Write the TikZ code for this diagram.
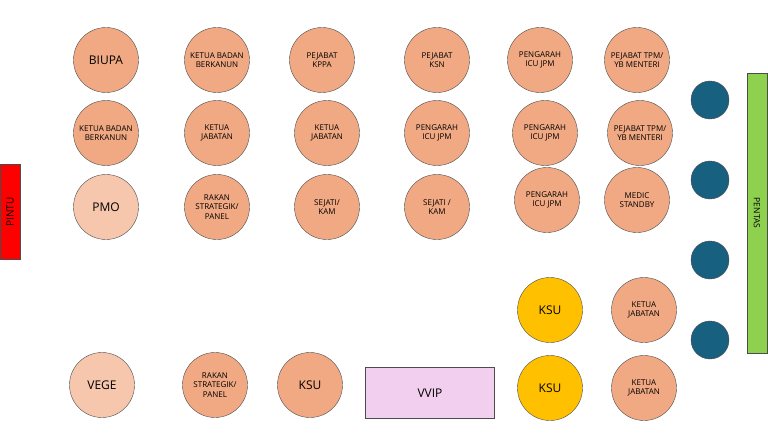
\documentclass[tikz,border=0pt]{standalone}
\usepackage{fontspec}
\setmainfont{Open Sans}
\usepackage{tikz}
\definecolor{salmon}{HTML}{F1A983}
\definecolor{peach}{HTML}{F6C6AD}
\definecolor{ksuyellow}{HTML}{FFC000}
\definecolor{seatblue}{HTML}{18607F}
\definecolor{stagegreen}{HTML}{8ED14F}
\definecolor{vvippink}{HTML}{F2CFEE}
\tikzset{
  meja/.style={shape=circle, draw=black!70, fill=salmon, minimum size=65pt, inner sep=0pt, align=center, font=\fontsize{8}{9.5}\selectfont},
  mejabesar/.style={meja, font=\fontsize{12}{14}\selectfont},
  kerusi/.style={shape=circle, draw=black!70, fill=seatblue, minimum size=38pt, inner sep=0pt}
}
\begin{document}
\begin{tikzpicture}[x=1pt, y=-1pt]
\useasboundingbox (0,0) rectangle (768,433);
% baris 1
\node[mejabesar] (biupa) at (106,60) {BIUPA};
\node[meja] (kbb1) at (217,60) {KETUA BADAN\\BERKANUN};
\node[meja] (kppa) at (322,60) {PEJABAT\\KPPA};
\node[meja] (ksn) at (437,60) {PEJABAT\\KSN};
\node[meja] (icu1) at (540,60) {PENGARAH\\ICU JPM};
\node[meja] (tpm1) at (637,60) {PEJABAT TPM/\\YB MENTERI};
% baris 2
\node[meja] (kbb2) at (106,133) {KETUA BADAN\\BERKANUN};
\node[meja] (kj1) at (217,133) {KETUA\\JABATAN};
\node[meja] (kj2) at (327,133) {KETUA\\JABATAN};
\node[meja] (icu2) at (437,133) {PENGARAH\\ICU JPM};
\node[meja] (icu3) at (545,133) {PENGARAH\\ICU JPM};
\node[meja] (tpm2) at (640,133) {PEJABAT TPM/\\YB MENTERI};
% baris 3
\node[mejabesar, fill=peach] (pmo) at (106,207) {PMO};
\node[meja] (rakan1) at (217,207) {RAKAN\\STRATEGIK/\\PANEL};
\node[meja] (sejati1) at (327,207) {SEJATI/\\KAM};
\node[meja] (sejati2) at (437,207) {SEJATI /\\KAM};
\node[meja] (icu4) at (547,200) {PENGARAH\\ICU JPM};
\node[meja] (medic) at (637,200) {MEDIC\\STANDBY};
% kanan bawah
\node[mejabesar, fill=ksuyellow] (ksu1) at (550,310) {KSU};
\node[meja] (kj3) at (644,310) {KETUA\\JABATAN};
\node[mejabesar, fill=ksuyellow] (ksu2) at (550,388) {KSU};
\node[meja] (kj4) at (644,388) {KETUA\\JABATAN};
% baris bawah
\node[mejabesar, fill=peach] (vege) at (102,385) {VEGE};
\node[meja] (rakan2) at (215,385) {RAKAN\\STRATEGIK/\\PANEL};
\node[mejabesar] (ksu3) at (310,385) {KSU};
\node[draw=black!70, fill=vvippink, minimum width=129pt, minimum height=51pt, font=\fontsize{12}{14}\selectfont] (vvip) at (430,393) {VVIP};
% kerusi biru
\foreach \y [count=\i] in {100,180,260,340}
  \node[kerusi] (k\i) at (710,\y) {};
% pentas dan pintu
\node[draw=black!70, fill=stagegreen, minimum width=20pt, minimum height=280pt, font=\fontsize{8.5}{9}\selectfont] (pentas) at (757,213) {\rotatebox{-90}{PENTAS}};
\node[draw=black!70, fill=red, minimum width=20pt, minimum height=95pt, font=\fontsize{10}{11}\selectfont] (pintu) at (10,212) {\rotatebox{90}{PINTU}};
\end{tikzpicture}
\end{document}
